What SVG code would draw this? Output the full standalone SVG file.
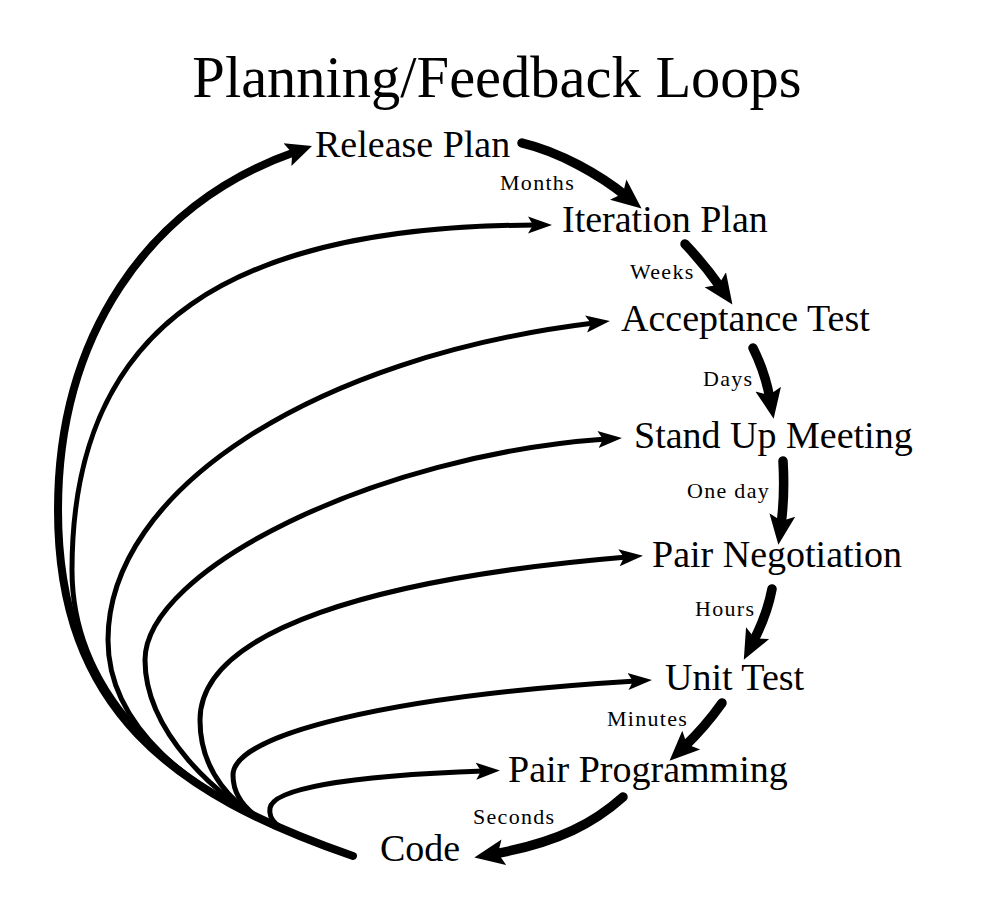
<svg xmlns="http://www.w3.org/2000/svg" width="1000" height="918" viewBox="0 0 1000 918">
<style>
.title{font-family:"Liberation Serif","Times New Roman",serif;font-size:58.5px;fill:#000}
.node{font-family:"Liberation Serif","Times New Roman",serif;font-size:38px;fill:#000}
.lbl{font-family:"Liberation Serif","Times New Roman",serif;font-size:22px;letter-spacing:1.3px;fill:#000}
.fb{fill:none;stroke:#000;stroke-width:5;marker-end:url(#headThin)}
.fbA{fill:none;stroke:#000;stroke-width:8;stroke-linecap:round;marker-end:url(#headA)}
.dn{fill:none;stroke:#000;stroke-width:9.5;stroke-linecap:round;marker-end:url(#headDown)}
</style>
<defs>
<marker id="headThin" markerUnits="userSpaceOnUse" markerWidth="30" markerHeight="20" viewBox="0 -10 30 20" refX="8" refY="0" orient="auto"><path d="M0,-8.5 L24,0 L0,8.5 L5,0 Z" fill="#000"/></marker>
<marker id="headA" markerUnits="userSpaceOnUse" markerWidth="30" markerHeight="28" viewBox="0 -14 30 28" refX="8" refY="0" orient="auto"><path d="M0,-12 L26,0 L0,12 L5,0 Z" fill="#000"/></marker>
<marker id="headDown" markerUnits="userSpaceOnUse" markerWidth="34" markerHeight="30" viewBox="0 -15 34 30" refX="10" refY="0" orient="auto"><path d="M0,-13 L30,0 L0,13 L6,0 Z" fill="#000"/></marker>
</defs>
<rect width="1000" height="918" fill="#fff"/>
<text class="title" x="497" y="97" text-anchor="middle">Planning/Feedback Loops</text>
<g id="connectors">
<path class="fbA" d="M353,856 C173,794 58,710 58,510 C58,340 144,205 295,152"/>
<path class="fb" d="M276,827 C166,777 72,690 72,570 C72,320 236,226 536,225"/>
<path class="fb" d="M276,827 C196,791 108,730 108,640 C108,490 314,357 594,323"/>
<path class="fb" d="M276,827 C216,800 145,730 145,660 C145,570 376,455 606,439"/>
<path class="fb" d="M276,827 C231,807 200,770 200,720 C200,630 377,578 627,557"/>
<path class="fb" d="M276,827 C251,816 233,800 233,775 C233,735 386,696 636,681"/>
<path class="fb" d="M298,836 C278,828 268,820 270,808 C273,790 340,776 484,771"/>
<path class="dn" d="M522,143 C560,152 600,175 626,196"/>
<path class="dn" d="M685,244 Q705,265 721,288"/>
<path class="dn" d="M753,348 Q765,372 770,399"/>
<path class="dn" d="M783,461 Q785,495 781,525"/>
<path class="dn" d="M772,589 Q767,615 753,642"/>
<path class="dn" d="M722,703 Q705,727 684,747"/>
<path class="dn" d="M623,797 C595,822 560,842 494,854"/>
<g id="edge-labels">
<text class="lbl" x="500" y="190">Months</text>
<text class="lbl" x="630" y="279">Weeks</text>
<text class="lbl" x="703" y="386">Days</text>
<text class="lbl" x="687" y="498">One day</text>
<text class="lbl" x="695" y="616">Hours</text>
<text class="lbl" x="607" y="726">Minutes</text>
<text class="lbl" x="473" y="824">Seconds</text>
</g>
</g>
<g id="release-plan"><text class="node" x="315" y="157">Release Plan</text></g>
<g id="iteration-plan"><text class="node" x="562" y="232">Iteration Plan</text></g>
<g id="acceptance-test"><text class="node" x="621" y="331">Acceptance Test</text></g>
<g id="stand-up-meeting"><text class="node" x="634" y="448">Stand Up Meeting</text></g>
<g id="pair-negotiation"><text class="node" x="652" y="567">Pair Negotiation</text></g>
<g id="unit-test"><text class="node" x="665" y="690">Unit Test</text></g>
<g id="pair-programming"><text class="node" x="508" y="782">Pair Programming</text></g>
<g id="code"><text class="node" x="380" y="861">Code</text></g>
</svg>
